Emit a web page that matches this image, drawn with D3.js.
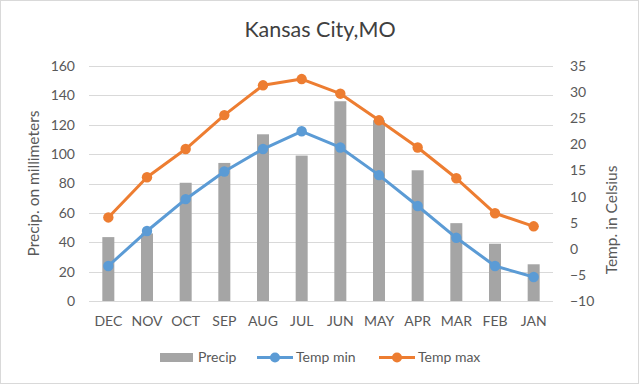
<!DOCTYPE html>
<html>
<head>
<meta charset="utf-8">
<script src="https://cdn.jsdelivr.net/npm/d3@7"></script>
<style>
  body { margin: 0; background: #fff; }
  text { font-family: Lato, "Open Sans", sans-serif; }
</style>
</head>
<body>
<svg width="640" height="385"></svg>
<script>
var months = ['DEC', 'NOV', 'OCT', 'SEP', 'AUG', 'JUL', 'JUN', 'MAY', 'APR', 'MAR', 'FEB', 'JAN'];
var precip = [43.5, 46, 80.5, 94, 113.5, 99, 136, 123, 89, 53, 39, 25];
var tempMin = [-3.3, 3.4, 9.5, 14.8, 19.1, 22.5, 19.4, 14.1, 8.2, 2.1, -3.3, -5.4];
var tempMax = [6.0, 13.7, 19.1, 25.6, 31.3, 32.5, 29.7, 24.6, 19.4, 13.5, 6.8, 4.3];
var leftTicks = [0, 20, 40, 60, 80, 100, 120, 140, 160];
var rightTicks = [-10, -5, 0, 5, 10, 15, 20, 25, 30, 35];

var svg = d3.select('svg');
var margin = { top: 66, right: 87, bottom: 84, left: 89 };
var w = 640 - margin.left - margin.right;
var h = 385 - margin.top - margin.bottom;

var blue = '#5b9bd5', orange = '#ed7d31', gray = '#a5a5a5';

// frame
svg.append('rect')
    .attr('x', 0.5).attr('y', 0.5)
    .attr('width', 638).attr('height', 383)
    .attr('fill', '#fff')
    .attr('stroke', '#d9d9d9');

svg.append('text')
    .attr('x', 320).attr('y', 37)
    .attr('text-anchor', 'middle')
    .style('font-size', '21.5px')
    .style('fill', '#404040')
    .text('Kansas City,MO');

var g = svg.append('g')
    .attr('transform', 'translate(' + margin.left + ',' + margin.top + ')');

var x = d3.scaleBand().domain(months).range([0, w]);
var yL = d3.scaleLinear().domain([0, 160]).range([h, 0]);
var yR = d3.scaleLinear().domain([-10, 35]).range([h, 0]);

// gridlines
g.append('g')
    .selectAll('line')
    .data(leftTicks)
    .enter()
    .append('line')
    .attr('x1', 0).attr('x2', w)
    .attr('y1', function (d) { return Math.round(yL(d)) + 0.5; })
    .attr('y2', function (d) { return Math.round(yL(d)) + 0.5; })
    .attr('stroke', '#d9d9d9')
    .attr('stroke-width', 1);

// axes
var leftAxis = g.append('g')
    .call(d3.axisLeft(yL).tickValues(leftTicks).tickSize(0).tickPadding(14));
var rightAxis = g.append('g')
    .attr('transform', 'translate(' + w + ',0)')
    .call(d3.axisRight(yR).tickValues(rightTicks).tickSize(0).tickPadding(17));
var bottomAxis = g.append('g')
    .attr('transform', 'translate(0,' + h + ')')
    .call(d3.axisBottom(x).tickSize(0).tickPadding(15));

[leftAxis, rightAxis, bottomAxis].forEach(function (a) {
    a.select('.domain').remove();
    a.selectAll('text')
        .style('font-size', '14px')
        .style('font-family', 'Lato, "Open Sans", sans-serif')
        .style('fill', '#595959');
});

// bars
var bw = 12;
g.selectAll('.bar')
    .data(precip)
    .enter()
    .append('rect')
    .attr('class', 'bar')
    .attr('x', function (d, i) { return x(months[i]) + x.bandwidth() / 2 - bw / 2; })
    .attr('y', function (d) { return yL(d); })
    .attr('width', bw)
    .attr('height', function (d) { return h - yL(d); })
    .attr('fill', gray);

function drawLine(vals, color) {
    var line = d3.line()
        .x(function (d, i) { return x(months[i]) + x.bandwidth() / 2; })
        .y(function (d) { return yR(d); });
    g.append('path')
        .datum(vals)
        .attr('d', line)
        .attr('fill', 'none')
        .attr('stroke', color)
        .attr('stroke-width', 3)
        .attr('stroke-linejoin', 'round');
    g.append('g')
        .selectAll('circle')
        .data(vals)
        .enter()
        .append('circle')
        .attr('cx', function (d, i) { return x(months[i]) + x.bandwidth() / 2; })
        .attr('cy', function (d) { return yR(d); })
        .attr('r', 5.2)
        .attr('fill', color);
}
drawLine(tempMin, blue);
drawLine(tempMax, orange);

// axis titles
svg.append('text')
    .attr('transform', 'translate(39,' + (margin.top + h / 2) + ') rotate(-90)')
    .attr('text-anchor', 'middle')
    .style('font-size', '15.5px')
    .style('fill', '#595959')
    .text('Precip. on millimeters');

svg.append('text')
    .attr('transform', 'translate(617,220) rotate(-90)')
    .attr('text-anchor', 'middle')
    .style('font-size', '15.5px')
    .style('fill', '#595959')
    .text('Temp. in Celsius');

// legend
var lg = svg.append('g');
lg.append('rect')
    .attr('x', 160).attr('y', 353)
    .attr('width', 33).attr('height', 9)
    .attr('fill', gray);
lg.append('text')
    .attr('x', 198).attr('y', 362)
    .style('font-size', '14px').style('fill', '#595959')
    .text('Precip');

[{ x: 257, color: blue, name: 'Temp min' }, { x: 379, color: orange, name: 'Temp max' }].forEach(function (d) {
    lg.append('line')
        .attr('x1', d.x).attr('x2', d.x + 36)
        .attr('y1', 357.5).attr('y2', 357.5)
        .attr('stroke', d.color).attr('stroke-width', 3);
    lg.append('circle')
        .attr('cx', d.x + 18).attr('cy', 357.5).attr('r', 5)
        .attr('fill', d.color);
    lg.append('text')
        .attr('x', d.x + 39).attr('y', 362)
        .style('font-size', '14px').style('fill', '#595959')
        .text(d.name);
});
</script>
</body>
</html>
